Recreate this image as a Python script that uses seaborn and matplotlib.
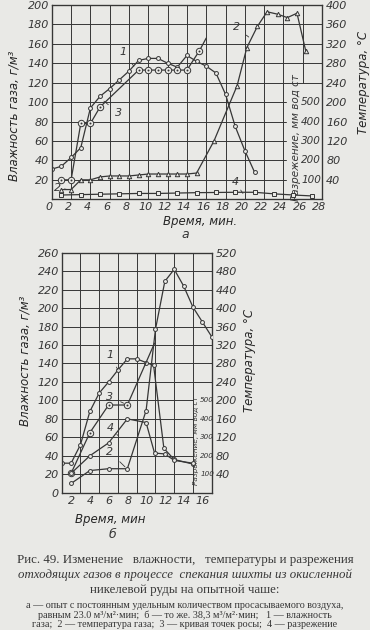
import numpy as np
import matplotlib
matplotlib.use("Agg")
import matplotlib.pyplot as plt
import matplotlib.transforms as mtransforms
import seaborn as sns

# ---- chart a (top) ----
a_hum_x = [0, 1, 2, 3, 4, 5, 6, 7, 8, 9, 10, 11, 12, 13, 14, 15, 16, 17, 18, 19, 20, 21]
a_hum_y = [31, 34, 43, 53, 94, 106, 114, 123, 132, 143, 145, 145, 140, 136, 148, 142, 137, 130, 108, 75, 50, 28]
a_temp_x = [1, 2, 3, 4, 5, 6, 7, 8, 9, 10, 11, 12, 13, 14, 15, 16.8, 19.2, 20.2, 21.3, 22.3, 23.4, 24.4, 25.4, 26.3]
a_temp_c = [20, 20, 40, 40, 46, 48, 48, 48, 50, 52, 52, 52, 52, 52, 54, 120, 234, 312, 356, 386, 381, 374, 383, 306]
a_dew_x = [1, 2, 3, 4, 5, 9, 10, 11, 12, 13, 14, 15.3, 16]
a_dew_y = [20, 20, 78, 78, 95, 133, 133, 133, 133, 133, 133, 153, 166]
a_vac_x = [1, 3, 5, 7, 9, 11, 13, 15, 17, 19, 21, 23, 25, 27]
a_vac_mm = [22, 24, 26, 28, 30, 30, 32, 34, 35, 36, 36, 28, 22, 17]

# ---- chart b (bottom) ----
b_hum_x = [0, 1, 2, 3, 4, 5, 6, 7, 8, 9, 9.8, 10.9, 12, 14]
b_hum_y = [32, 32, 52, 88, 108, 120, 133, 145, 145, 141, 138, 48, 36, 31]
b_temp_x = [1, 3, 5, 7, 9, 10, 11, 12, 13, 14, 15, 16]
b_temp_c = [20, 48, 52, 52, 178, 354, 458, 484, 448, 402, 370, 338]
b_dew_x = [1, 3, 5, 7, 9.9]
b_dew_y = [21, 65, 95, 95, 162]
b_vac_x = [1, 3, 5, 7, 9, 9.9, 11, 12, 14]
b_vac_mm = [105, 200, 270, 400, 380, 215, 210, 175, 160]

vac_ticks = [100, 200, 300, 400, 500]

caption_main = ["Рис. 49. Изменение   влажности,   температуры и разрежения",
                "отходящих газов в процессе  спекания шихты из окисленной",
                "никелевой руды на опытной чаше:"]
caption_small = ["а — опыт с постоянным удельным количеством просасываемого воздуха,",
                 "равным 23.0 м³/м²·мин;  б — то же. 38,3 м³/м²·мин;   1 — влажность",
                 "газа;  2 — температура газа;  3 — кривая точек росы;  4 — разрежение"]

sns.set_style("white")
plt.rcParams['font.family'] = ['DejaVu Sans']
BG = '#e9e9e6'
INK = '#363636'
plt.rcParams['axes.edgecolor'] = INK
plt.rcParams['text.color'] = INK
plt.rcParams['xtick.color'] = INK
plt.rcParams['ytick.color'] = INK

fig = plt.figure(figsize=(3.7, 6.3), dpi=100, facecolor=BG)


def grid(ax, xmax, ymax, xstep, ystep, short_below, short_x, skip_x=None, skip_from=None):
    for gx in np.arange(xstep, xmax, xstep):
        lo = 0
        if skip_x is not None and abs(gx - skip_x) < 1e-6:
            lo = skip_from / ymax
        ax.axvline(gx, ymin=lo, ymax=1, color=INK, lw=0.7, zorder=1)
    for gy in np.arange(ystep, ymax, ystep):
        right = short_x / xmax if gy <= short_below else 1
        ax.axhline(gy, xmin=0, xmax=right, color=INK, lw=0.7, zorder=1)


def style(ax, xticks, yticks, xmax, ymax, shift_px):
    ax.set_facecolor('none')
    ax.set_xlim(0, xmax)
    ax.set_ylim(0, ymax)
    ax.set_xticks(xticks)
    ax.set_yticks(yticks)
    ax.tick_params(length=0, pad=2, labelsize=8)
    for lab in ax.get_xticklabels() + ax.get_yticklabels():
        lab.set_fontstyle('italic')
    off = mtransforms.ScaledTranslation(shift_px / 100, 0, fig.dpi_scale_trans)
    for lab in ax.get_xticklabels():
        lab.set_transform(lab.get_transform() + off)
    for sp in ax.spines.values():
        sp.set_linewidth(0.9)


def line(ax, x, y, marker, ms, mfc='none', every=None, lw=0.9):
    kw = dict(marker=marker, markersize=ms, markerfacecolor=mfc,
              markeredgecolor=INK, markeredgewidth=0.7)
    if every is not None:
        kw['markevery'] = every
    sns.lineplot(x=x, y=y, ax=ax, color=INK, lw=lw, estimator=None, sort=False,
                 legend=False, zorder=3, **kw)


def dew(ax, x, y):
    idx = list(range(len(x) - 1))
    line(ax, x, y, 'o', 4.6, mfc=BG, every=idx)
    sns.scatterplot(x=x[:-1], y=y[:-1], ax=ax, color=INK, s=2, linewidth=0, zorder=4)


def right_temp(ax, top, step):
    t = ax.twinx()
    t.set_ylim(0, top)
    t.set_yticks(np.arange(step, top + 1, step))
    t.tick_params(length=0, pad=3, labelsize=8)
    for lab in t.get_yticklabels():
        lab.set_fontstyle('italic')
    return t


# ================= top chart =================
ax1 = fig.add_axes([0.14, 0.6837, 0.7305, 0.3084])
style(ax1, np.arange(0, 29, 2), np.arange(20, 201, 20), 28, 200, -3)
grid(ax1, 28, 200, 2, 20, 100, 24.3, skip_x=26, skip_from=120)
line(ax1, a_hum_x, a_hum_y, 'o', 2.8, mfc=BG)
dew(ax1, a_dew_x, a_dew_y)

t1 = right_temp(ax1, 400, 40)
line(t1, a_temp_x, a_temp_c, '^', 3.2, mfc=BG)
t1.set_ylabel('Температура, °С', fontsize=8.5, fontstyle='italic')
t1.yaxis.set_label_coords(1.13, 0.6)

v1 = ax1.twinx()
v1.set_ylim(0, 1000)
v1.axis('off')
line(v1, a_vac_x, a_vac_mm, 's', 2.6, mfc=BG)
for v in vac_ticks:
    ax1.text(27.9, v / 5, str(v), ha='right', va='center', fontsize=7.5, fontstyle='italic')
ax1.text(25.3, 64, 'Разрежение, мм вод ст', rotation=90, ha='center', va='center',
         fontsize=7.5, fontstyle='italic')

ax1.set_ylabel('Влажность газа, г/м³', fontsize=8.5, fontstyle='italic')
ax1.yaxis.set_label_coords(-0.115, 0.43)
ax1.set_xlabel('Время, мин.', fontsize=8.5, fontstyle='italic')
ax1.xaxis.set_label_coords(0.55, -0.08)
fig.text(185 / 370, 1 - 235 / 630, 'а', ha='center', va='center', fontsize=9, fontstyle='italic')

for txt, xy, xyt in [('1', (8.5, 137), (7.4, 152)), ('2', (20.4, 167), (19.1, 177)),
                     ('3', (5.4, 101), (6.9, 89)), ('4', (19.8, 6), (19.0, 18)),
                     ('2', (1.6, 10), (0.6, 12))]:
    ax1.annotate(txt, xy=xy, xytext=xyt, fontsize=8, fontstyle='italic', ha='center', va='center',
                 arrowprops=dict(arrowstyle='-', color=INK, lw=0.6, shrinkA=3, shrinkB=0))

# ================= bottom chart =================
ax2 = fig.add_axes([0.1668, 0.2179, 0.4054, 0.381])
style(ax2, np.arange(2, 17, 2), np.arange(0, 261, 20), 16, 260, -9)
grid(ax2, 16, 260, 2, 20, 100, 14)
line(ax2, b_hum_x, b_hum_y, 'o', 2.8, mfc=BG)
dew(ax2, b_dew_x, b_dew_y)

t2 = right_temp(ax2, 520, 40)
line(t2, b_temp_x, b_temp_c, 'o', 2.8, mfc=BG)
t2.set_ylabel('Температура, °С', fontsize=8.5, fontstyle='italic')
t2.yaxis.set_label_coords(1.21, 0.55)

v2 = ax2.twinx()
v2.set_ylim(0, 1300)
v2.axis('off')
line(v2, b_vac_x, b_vac_mm, 'o', 2.8, mfc=BG)
for v in vac_ticks:
    ax2.text(16.25, v / 5, str(v), ha='right', va='center', fontsize=5.2, fontstyle='italic')
ax2.text(14.35, 56, 'Разрежение, мм вод ст', rotation=90, ha='center', va='center',
         fontsize=5.2, fontstyle='italic')

ax2.set_ylabel('Влажность газа, г/м³', fontsize=8.5, fontstyle='italic')
ax2.yaxis.set_label_coords(-0.2, 0.55)
ax2.set_xlabel('Время, мин', fontsize=8.5, fontstyle='italic', labelpad=1)
ax2.xaxis.set_label_coords(0.32, -0.085)
fig.text(112 / 370, 1 - 535 / 630, 'б', ha='center', va='center', fontsize=9, fontstyle='italic')

for txt, xy, xyt in [('1', (6.0, 133), (5.15, 149)), ('3', (6.6, 97), (5.15, 104)),
                     ('4', (6.0, 62), (5.15, 70)), ('2', (6.75, 28), (5.15, 44))]:
    ax2.annotate(txt, xy=xy, xytext=xyt, fontsize=8, fontstyle='italic', ha='center', va='center',
                 arrowprops=dict(arrowstyle='-', color=INK, lw=0.6, shrinkA=3, shrinkB=0))

# ================= caption =================
for i, s in enumerate(caption_main):
    fig.text(0.5, 1 - (560 + 15 * i) / 630, s, ha='center', va='center',
             family=['Liberation Serif'], fontsize=9.3, style='italic' if i == 1 else 'normal')
for i, s in enumerate(caption_small):
    fig.text(0.5, 1 - (606 + 9.3 * i) / 630, s, ha='center', va='center',
             family=['Liberation Serif'], fontsize=7.3)

fig.savefig('out.png', dpi=100, facecolor=BG)
